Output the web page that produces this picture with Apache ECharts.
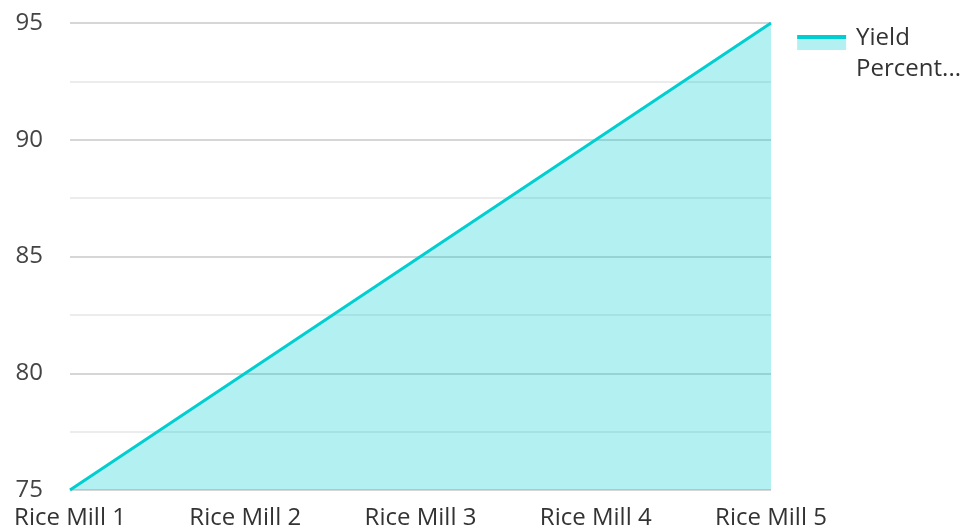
<!DOCTYPE html>
<html>
<head>
<meta charset="utf-8">
<script src="https://cdn.jsdelivr.net/npm/echarts@6/dist/echarts.min.js"></script>
<style>html,body{margin:0;padding:0;background:#fff;}#c{width:966px;height:531px;}</style>
</head>
<body>
<div id="c"></div>
<script>
var categories = ['Rice Mill 1', 'Rice Mill 2', 'Rice Mill 3', 'Rice Mill 4', 'Rice Mill 5'];
var yieldValues = [75, 80, 85, 90, 95];
var seriesName = 'Yield Percentage';
var yTicks = { min: 75, max: 95, interval: 5 };

var lineColor = '#00CED1';
var areaColor = '#b2f0f1';
var font = '"Open Sans", "Noto Sans", sans-serif';

var chart = echarts.init(document.getElementById('c'), null, { renderer: 'canvas' });
chart.setOption({
  animation: false,
  grid: { left: 70, right: 195, top: 23, bottom: 41, containLabel: false },
  legend: {
    right: 0, top: 18, orient: 'vertical',
    itemWidth: 49, itemHeight: 38, itemGap: 10,
    icon: 'rect',
    data: [{
      name: seriesName,
      itemStyle: {
        color: { type: 'linear', x: 0, y: 0, x2: 0, y2: 1, colorStops: [
          { offset: 0, color: lineColor }, { offset: 0.11, color: lineColor },
          { offset: 0.11, color: areaColor }, { offset: 0.385, color: areaColor },
          { offset: 0.385, color: 'rgba(255,255,255,0)' }, { offset: 1, color: 'rgba(255,255,255,0)' }
        ] }
      }
    }],
    formatter: function (n) { return 'Yield\nPercent...'; },
    textStyle: { fontFamily: font, fontSize: 24, color: '#333', lineHeight: 31, padding: [0, 0, 0, 5] }
  },
  xAxis: {
    type: 'category', data: categories, boundaryGap: false,
    axisLine: { show: false }, axisTick: { show: false },
    axisLabel: { fontFamily: font, fontSize: 24, color: '#333', margin: 16, interval: 0 }
  },
  yAxis: {
    type: 'value', min: yTicks.min, max: yTicks.max, interval: yTicks.interval,
    axisLine: { show: false }, axisTick: { show: false },
    axisLabel: { fontFamily: font, fontSize: 24, color: '#444', margin: 27 },
    splitLine: { show: true, lineStyle: { color: '#c8c8c8', width: 1.5 } },
    minorTick: { show: false, splitNumber: 2 },
    minorSplitLine: { show: true, lineStyle: { color: '#e6e6e6', width: 1.5 } }
  },
  series: [{
    name: seriesName, type: 'line', data: yieldValues,
    showSymbol: false, symbol: 'none',
    lineStyle: { color: lineColor, width: 3 },
    itemStyle: { color: lineColor },
    areaStyle: { color: lineColor, opacity: 0.3, origin: 'start' }
  }]
});
</script>
</body>
</html>
